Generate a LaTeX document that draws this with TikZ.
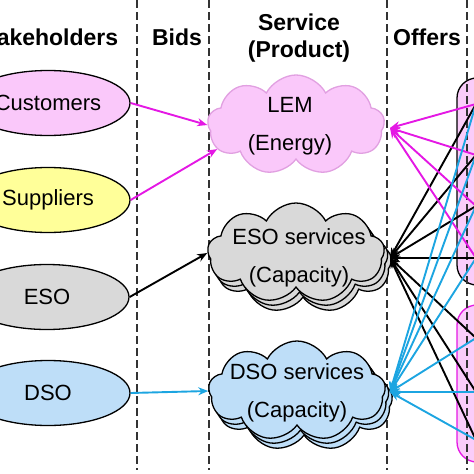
\documentclass[tikz,border=0pt]{standalone}
\usepackage{fontspec}
\setmainfont{Liberation Sans}
\usepackage{xcolor}
\usepackage{tikz}
\usetikzlibrary{shapes.geometric,shapes.symbols,arrows.meta}
\definecolor{custpink}{RGB}{250,200,250}
\definecolor{suppyellow}{RGB}{255,255,153}
\definecolor{esogray}{RGB}{217,217,217}
\definecolor{dsoblue}{RGB}{190,222,248}
\definecolor{lemedge}{RGB}{225,160,225}
\definecolor{offerpink}{RGB}{250,205,250}
\definecolor{bidmagenta}{RGB}{228,24,228}
\definecolor{bidcyan}{RGB}{28,165,225}
\tikzset{holder/.style={ellipse,draw,line width=1.3pt,minimum width=164pt,minimum height=65pt,inner sep=1pt,font=\fontsize{22}{26}\selectfont},
service/.style={cloud,cloud puffs=9,cloud puff arc=125,aspect=1.8,draw,line width=1.3pt,minimum width=177pt,minimum height=100pt,inner sep=0pt},
servicetext/.style={align=center,inner sep=0pt,font=\fontsize{22}{38}\selectfont},
head/.style={align=center,inner sep=0pt,font=\bfseries\fontsize{23}{27}\selectfont},
offerbox/.style={draw,line width=1.3pt,fill=offerpink,rounded corners=20pt,minimum width=70pt},
divider/.style={line width=1.3pt,black!80,dash pattern=on 8pt off 4pt},
link/.style={line width=1.9pt}}

\begin{document}
\begin{tikzpicture}[x=1pt,y=-1pt,>={Stealth[length=10pt,width=8pt]}]
\useasboundingbox (0,0) rectangle (474,474);
\clip (0,0) rectangle (474,474);
% offer groups on the right
\node[offerbox,minimum height=207pt] (offtop) at (492,181.5) {};
\node[offerbox,draw=bidmagenta,minimum height=157pt] (offbot) at (492,383.5) {};
% column dividers
\draw[divider] (137,0) -- (137,470);
\draw[divider] (209,0) -- (209,470);
\draw[divider] (387,0) -- (387,470);
\draw[divider] (467,0) -- (467,470);
% column titles
\node[head] (hstake) at (46,37) {Stakeholders};
\node[head] (hbids) at (177,37) {Bids};
\node[head] (hserv) at (299,38) {Service\\(Product)};
\node[head] (hoffer) at (427,37) {Offers};
% stakeholders
\node[holder,fill=custpink] (cust) at (48,103) {Customers};
\node[holder,fill=suppyellow] (supp) at (48,200) {Suppliers};
\node[holder,fill=esogray] (eso) at (47,297) {ESO};
\node[holder,fill=dsoblue] (dso) at (48,393) {DSO};
% services
\node[service,draw=lemedge,fill=custpink] (lem) at (296,125) {};
\node[servicetext] (lemtxt) at (290,126) {LEM\\(Energy)};
\node[service,fill=esogray] (esoc3) at (303,263) {};
\node[service,fill=esogray] (esoc2) at (299.5,258) {};
\node[service,fill=esogray] (esoc) at (296,253) {};
\node[servicetext] (esotxt) at (299,258) {ESO services\\(Capacity)};
\node[service,fill=dsoblue] (dsoc3) at (304,401) {};
\node[service,fill=dsoblue] (dsoc2) at (300.5,396) {};
\node[service,fill=dsoblue] (dsoc) at (297,391) {};
\node[servicetext] (dsotxt) at (297,393) {DSO services\\(Capacity)};
% meeting points of the offers
\coordinate (lemhub) at (390,128);
\coordinate (esohub) at (390,258);
\coordinate (dsohub) at (390,392);
\coordinate (o1) at (476,104);
\coordinate (o2) at (476,155);
\coordinate (o3) at (476,206);
\coordinate (o4) at (476,258);
\coordinate (o5) at (476,338);
\coordinate (o6) at (476,392);
\coordinate (o7) at (476,440);
% bids
\path[->,link,bidmagenta] (cust.east) edge (lem.west);
\path[->,link,bidmagenta] (supp.east) edge (lem.197);
\path[->,link,black] (eso.east) edge (esoc.west);
\path[->,link,bidcyan] (dso.east) edge (dsoc.west);
% offers
\path[->,link,black] (o1) edge (esohub);
\path[->,link,black] (o2) edge (esohub);
\path[->,link,black] (o3) edge (esohub);
\path[->,link,black] (o4) edge (esohub);
\path[->,link,black] (o5) edge (esohub);
\path[->,link,black] (o6) edge (esohub);
\path[->,link,black] (o7) edge (esohub);
\path[->,link,bidmagenta] (o1) edge (lemhub);
\path[->,link,bidmagenta] (o2) edge (lemhub);
\path[->,link,bidmagenta] (o3) edge (lemhub);
\path[->,link,bidmagenta] (o4) edge (lemhub);
\path[->,link,bidcyan] (o1) edge (dsohub);
\path[->,link,bidcyan] (o2) edge (dsohub);
\path[->,link,bidcyan] (o3) edge (dsohub);
\path[->,link,bidcyan] (o4) edge (dsohub);
\path[->,link,bidcyan] (o5) edge (dsohub);
\path[->,link,bidcyan] (o6) edge (dsohub);
\path[->,link,bidcyan] (o7) edge (dsohub);
\end{tikzpicture}
\end{document}
